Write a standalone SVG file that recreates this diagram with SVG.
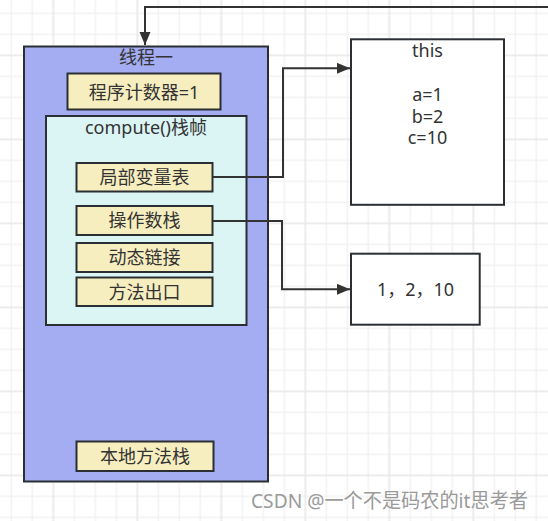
<svg xmlns="http://www.w3.org/2000/svg" width="548" height="521" viewBox="0 0 548 521">
<style>
text{font-family:"Noto Sans","Noto Sans CJK SC",sans-serif;font-size:18px;fill:#333;text-anchor:middle}
.box{stroke:#2b2f33;stroke-width:2}
.item{fill:#f7eec0}
.conn{fill:none;stroke:#333;stroke-width:2}
.wm{font-size:20px;fill:#9a9a9a;text-anchor:start}
</style>
<defs>
<pattern id="grid" patternUnits="userSpaceOnUse" x="10.6" y="12.6" width="84" height="84">
<rect x="0" y="0" width="1.4" height="84" fill="#f1f1f1"/>
<rect x="21" y="0" width="1.4" height="84" fill="#f1f1f1"/>
<rect x="63" y="0" width="1.4" height="84" fill="#f1f1f1"/>
<rect x="0" y="0" width="84" height="1.4" fill="#f1f1f1"/>
<rect x="0" y="21" width="84" height="1.4" fill="#f1f1f1"/>
<rect x="0" y="63" width="84" height="1.4" fill="#f1f1f1"/>
<rect x="41.9" y="0" width="1.6" height="84" fill="#e7e7e7"/>
<rect x="0" y="41.9" width="84" height="1.6" fill="#e7e7e7"/>
</pattern>
<marker id="arr" markerUnits="userSpaceOnUse" markerWidth="14" markerHeight="12" refX="13" refY="5.5" orient="auto">
<path d="M0,0 L13,5.5 L0,11 z" fill="#333"/>
</marker>
</defs>
<rect width="548" height="521" fill="#fff"/>
<rect width="548" height="521" fill="url(#grid)"/>

<g id="thread">
<rect class="box" x="24" y="46.5" width="244" height="435" fill="#a4acf2" stroke-width="2.5"/>
<text x="146" y="63.5">线程一</text>
</g>
<g id="pc">
<rect class="box item" x="67.5" y="73.5" width="153" height="36"/>
<text x="144" y="99">程序计数器=1</text>
</g>
<g id="frame">
<rect class="box" x="46" y="116" width="200.5" height="209" fill="#dbf4f4"/>
<text x="146" y="134">compute()栈帧</text>
</g>
<g id="locals">
<rect class="box item" x="76.5" y="163" width="136" height="28.5"/>
<text x="144.5" y="184">局部变量表</text>
</g>
<g id="opstack">
<rect class="box item" x="76.5" y="206" width="136" height="29"/>
<text x="144.5" y="227">操作数栈</text>
</g>
<g id="dynlink">
<rect class="box item" x="76.5" y="243" width="136" height="29"/>
<text x="144.5" y="264">动态链接</text>
</g>
<g id="retaddr">
<rect class="box item" x="76.5" y="277.5" width="136" height="28.5"/>
<text x="144.5" y="298.5">方法出口</text>
</g>
<g id="native">
<rect class="box item" x="76.5" y="441.5" width="137" height="29.5"/>
<text x="145" y="462.5">本地方法栈</text>
</g>
<g id="thisobj">
<rect class="box" x="351" y="39.3" width="153" height="165.5" fill="#fff"/>
<text x="427.5" y="56.5">this</text>
<text x="427.5" y="101"><tspan x="427.5">a=1</tspan><tspan x="427.5" dy="21.5">b=2</tspan><tspan x="427.5" dy="21.5">c=10</tspan></text>
</g>
<g id="values">
<rect class="box" x="351" y="253.7" width="128.7" height="71" fill="#fff"/>
<text x="415.5" y="296">1，2，10</text>
</g>

<g id="connectors">
<path class="conn" d="M550,7 H145 V45" marker-end="url(#arr)"/>
<path class="conn" d="M213,177 H283 V68.3 H350" marker-end="url(#arr)"/>
<path class="conn" d="M213,221 H282 V289.3 H350" marker-end="url(#arr)"/>
</g>

<text class="wm" x="251" y="508" textLength="277" lengthAdjust="spacingAndGlyphs">CSDN @一个不是码农的it思考者</text>
</svg>
